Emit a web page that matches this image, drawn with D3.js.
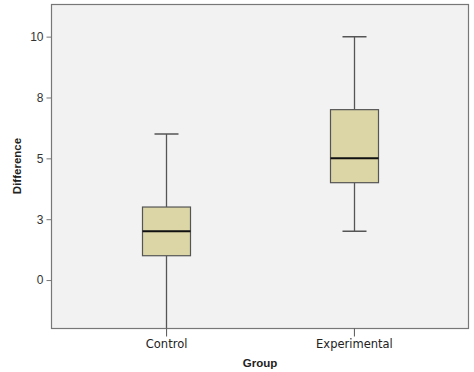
<!DOCTYPE html>
<html><head><meta charset="utf-8">
<script src="https://cdn.jsdelivr.net/npm/d3@7"></script>
<style>html,body{margin:0;padding:0;background:#fff;}</style>
</head><body>
<svg id="c" width="474" height="372"></svg>
<script>
const categories = ["Control", "Experimental"];
const whiskerLow = [-2.2, 2.0];
const q1 = [1.0, 4.0];
const medians = [2.0, 5.0];
const q3 = [3.0, 7.0];
const whiskerHigh = [6.0, 10.0];
const tickValues = [0, 2.5, 5, 7.5, 10];
const tickLabels = ["0", "3", "5", "8", "10"];

const svg = d3.select("#c");
const L = 51.5, R = 468.5, T = 4.5, B = 328.5;
const y = d3.scaleLinear().domain([-1.99, 11.32]).range([B, T]);
const x = d3.scalePoint().domain(categories).range([L, R]).padding(0.61);

svg.append("defs").append("clipPath").attr("id","clip")
  .append("rect").attr("x", L).attr("y", T).attr("width", R - L).attr("height", B - T);

svg.append("rect").attr("x", L).attr("y", T).attr("width", R - L).attr("height", B - T)
  .attr("fill", "#f2f2f2").attr("stroke", "none");

const g = svg.append("g").attr("clip-path", "url(#clip)");
const boxW = 48, capW = 24;
categories.forEach((c, i) => {
  const cx = Math.round(x(c)) + 0.5;
  g.append("line").attr("x1", cx).attr("x2", cx).attr("y1", y(whiskerHigh[i])).attr("y2", y(q3[i]))
    .attr("stroke", "#555").attr("stroke-width", 1.3);
  g.append("line").attr("x1", cx).attr("x2", cx).attr("y1", y(q1[i])).attr("y2", y(whiskerLow[i]))
    .attr("stroke", "#555").attr("stroke-width", 1.3);
  g.append("line").attr("x1", cx - capW/2).attr("x2", cx + capW/2).attr("y1", y(whiskerHigh[i])).attr("y2", y(whiskerHigh[i]))
    .attr("stroke", "#555").attr("stroke-width", 1.5);
  g.append("line").attr("x1", cx - capW/2).attr("x2", cx + capW/2).attr("y1", y(whiskerLow[i])).attr("y2", y(whiskerLow[i]))
    .attr("stroke", "#555").attr("stroke-width", 1.5);
  g.append("rect").attr("x", cx - boxW/2).attr("y", y(q3[i])).attr("width", boxW).attr("height", y(q1[i]) - y(q3[i]))
    .attr("fill", "#dcd5a6").attr("stroke", "#555").attr("stroke-width", 1.2);
  g.append("line").attr("x1", cx - boxW/2).attr("x2", cx + boxW/2).attr("y1", y(medians[i])).attr("y2", y(medians[i]))
    .attr("stroke", "#111").attr("stroke-width", 2);
});

// frame
svg.append("rect").attr("x", L).attr("y", T).attr("width", R - L).attr("height", B - T)
  .attr("fill", "none").attr("stroke", "#777").attr("stroke-width", 1.2);

// y axis
const yAxis = d3.axisLeft(y).tickValues(tickValues).tickSize(5).tickPadding(3)
  .tickFormat((d, i) => tickLabels[i]);
const ya = svg.append("g").attr("transform", `translate(${L},0)`).call(yAxis);
ya.select(".domain").remove();
ya.selectAll("line").attr("stroke", "#777");
ya.selectAll("text").attr("fill", "#333").style("font-family", "Liberation Sans, Arial, sans-serif").style("font-size", "12px");

// x axis
const xAxis = d3.axisBottom(x).tickSize(8).tickPadding(3);
const xa = svg.append("g").attr("transform", `translate(0,${B})`).call(xAxis);
xa.select(".domain").remove();
xa.selectAll("line").attr("stroke", "#555");
xa.selectAll("text").attr("fill", "#222").style("font-family", "DejaVu Sans, sans-serif").style("font-size", "11.5px");

svg.append("text").attr("x", 260).attr("y", 367).attr("text-anchor", "middle")
  .style("font-family", "Liberation Sans, Arial, sans-serif").style("font-size", "11.5px").style("font-weight", "bold")
  .attr("fill", "#222").text("Group");
svg.append("text").attr("transform", "translate(21,166) rotate(-90)").attr("text-anchor", "middle")
  .style("font-family", "Liberation Sans, Arial, sans-serif").style("font-size", "11.5px").style("font-weight", "bold")
  .attr("fill", "#222").text("Difference");
</script>
</body></html>
